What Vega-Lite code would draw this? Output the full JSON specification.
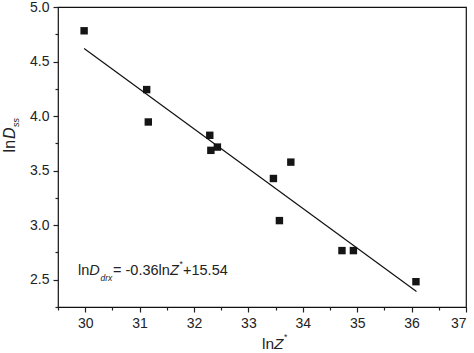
{
  "$schema": "https://vega.github.io/schema/vega-lite/v6.json",
  "width": 408,
  "height": 300,
  "autosize": "none",
  "padding": {"left": 58, "top": 7, "right": 8, "bottom": 46},
  "background": "white",
  "config": {
    "view": {"stroke": "#111", "strokeWidth": 1.2},
    "font": "Liberation Sans",
    "axis": {"grid": false, "domain": false, "labelFont": "Liberation Sans", "labelFontSize": 14, "labelColor": "#222", "tickColor": "#222", "tickWidth": 1.2}
  },
  "layer": [
    {
      "data": {"values": [
        {"lnZ": 29.98, "lnD": 4.782},
        {"lnZ": 31.13, "lnD": 4.243},
        {"lnZ": 31.16, "lnD": 3.946},
        {"lnZ": 32.29, "lnD": 3.824},
        {"lnZ": 32.31, "lnD": 3.686},
        {"lnZ": 32.43, "lnD": 3.716},
        {"lnZ": 33.46, "lnD": 3.428},
        {"lnZ": 33.78, "lnD": 3.578},
        {"lnZ": 33.57, "lnD": 3.042},
        {"lnZ": 34.72, "lnD": 2.767},
        {"lnZ": 34.93, "lnD": 2.767},
        {"lnZ": 36.08, "lnD": 2.482}
      ]},
      "mark": {"type": "square", "filled": true, "color": "#151515", "size": 55, "opacity": 1},
      "encoding": {
        "x": {"field": "lnZ", "type": "quantitative", "scale": {"domain": [29.5, 37], "nice": false, "zero": false},
              "axis": {"title": null, "orient": "bottom", "values": [30, 31, 32, 33, 34, 35, 36, 37], "tickSize": 5, "labelPadding": 4, "format": "d"}},
        "y": {"field": "lnD", "type": "quantitative", "scale": {"domain": [2.25, 5.0], "nice": false, "zero": false},
              "axis": {"title": null, "orient": "left", "values": [2.5, 3.0, 3.5, 4.0, 4.5, 5.0], "tickSize": 5, "labelPadding": 4, "format": ".1f"}}
      }
    },
    {
      "data": {"values": [{"lnZ": 29.98, "lnD": 4.62}, {"lnZ": 36.09, "lnD": 2.392}]},
      "mark": {"type": "line", "color": "#111", "strokeWidth": 1.2},
      "encoding": {
        "x": {"field": "lnZ", "type": "quantitative", "axis": {"title": null, "orient": "bottom", "values": [29.5, 30.5, 31.5, 32.5, 33.5, 34.5, 35.5, 36.5], "tickSize": 3, "labels": false}},
        "y": {"field": "lnD", "type": "quantitative", "axis": {"title": null, "orient": "left", "values": [2.25, 2.75, 3.25, 3.75, 4.25, 4.75], "tickSize": 3, "labels": false}}
      }
    },
    {
      "data": {"values": [
        {"px": 29.868, "py": 2.543, "t": "ln"},
        {"px": 30.511, "py": 2.543, "t": "= -0.36ln"},
        {"px": 31.798, "py": 2.543, "t": "+15.54"}
      ]},
      "mark": {"type": "text", "align": "left", "baseline": "alphabetic", "fontSize": 14.5, "color": "#222"},
      "encoding": {
        "x": {"field": "px", "type": "quantitative", "axis": null},
        "y": {"field": "py", "type": "quantitative", "axis": null},
        "text": {"field": "t"}
      }
    },
    {
      "data": {"values": [
        {"px": 30.075, "py": 2.543, "t": "D"},
        {"px": 31.559, "py": 2.543, "t": "Z"}
      ]},
      "mark": {"type": "text", "align": "left", "baseline": "alphabetic", "fontSize": 14.5, "fontStyle": "italic", "color": "#222"},
      "encoding": {
        "x": {"field": "px", "type": "quantitative", "axis": null},
        "y": {"field": "py", "type": "quantitative", "axis": null},
        "text": {"field": "t"}
      }
    },
    {
      "data": {"values": [
        {"px": 33.25, "py": 1.865, "t": "ln"}
      ]},
      "mark": {"type": "text", "align": "left", "baseline": "alphabetic", "fontSize": 15.5, "color": "#222"},
      "encoding": {
        "x": {"field": "px", "type": "quantitative", "axis": null},
        "y": {"field": "py", "type": "quantitative", "axis": null},
        "text": {"field": "t"}
      }
    },
    {
      "data": {"values": [
        {"px": 33.472, "py": 1.865, "t": "Z"}
      ]},
      "mark": {"type": "text", "align": "left", "baseline": "alphabetic", "fontSize": 15.5, "fontStyle": "italic", "color": "#222"},
      "encoding": {
        "x": {"field": "px", "type": "quantitative", "axis": null},
        "y": {"field": "py", "type": "quantitative", "axis": null},
        "text": {"field": "t"}
      }
    },
    {
      "data": {"values": [
        {"px": 30.281, "py": 2.491, "t": "drx"}
      ]},
      "mark": {"type": "text", "align": "left", "baseline": "alphabetic", "fontSize": 8.5, "fontStyle": "italic", "color": "#222"},
      "encoding": {
        "x": {"field": "px", "type": "quantitative", "axis": null},
        "y": {"field": "py", "type": "quantitative", "axis": null},
        "text": {"field": "t"}
      }
    },
    {
      "data": {"values": [
        {"px": 31.733, "py": 2.62, "t": "*"},
        {"px": 33.655, "py": 1.945, "t": "*"}
      ]},
      "mark": {"type": "text", "align": "left", "baseline": "alphabetic", "fontSize": 8.5, "color": "#222"},
      "encoding": {
        "x": {"field": "px", "type": "quantitative", "axis": null},
        "y": {"field": "py", "type": "quantitative", "axis": null},
        "text": {"field": "t"}
      }
    },
    {
      "data": {"values": [
        {"px": 28.71, "py": 3.667, "t": "ln"}
      ]},
      "mark": {"type": "text", "align": "left", "baseline": "alphabetic", "angle": 270, "fontSize": 16, "color": "#222"},
      "encoding": {
        "x": {"field": "px", "type": "quantitative", "axis": null},
        "y": {"field": "py", "type": "quantitative", "axis": null},
        "text": {"field": "t"}
      }
    },
    {
      "data": {"values": [
        {"px": 28.71, "py": 3.79, "t": "D"}
      ]},
      "mark": {"type": "text", "align": "left", "baseline": "alphabetic", "angle": 270, "fontSize": 16, "fontStyle": "italic", "color": "#222"},
      "encoding": {
        "x": {"field": "px", "type": "quantitative", "axis": null},
        "y": {"field": "py", "type": "quantitative", "axis": null},
        "text": {"field": "t"}
      }
    },
    {
      "data": {"values": [
        {"px": 28.78, "py": 3.90, "t": "ss"}
      ]},
      "mark": {"type": "text", "align": "left", "baseline": "alphabetic", "angle": 270, "fontSize": 9, "fontStyle": "italic", "color": "#222"},
      "encoding": {
        "x": {"field": "px", "type": "quantitative", "axis": null},
        "y": {"field": "py", "type": "quantitative", "axis": null},
        "text": {"field": "t"}
      }
    }
  ],
  "resolve": {"axis": {"x": "independent", "y": "independent"}}
}
